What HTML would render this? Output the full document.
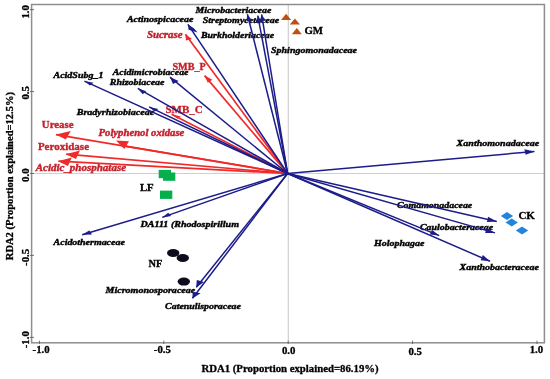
<!DOCTYPE html><html><head><meta charset="utf-8"><style>html,body{margin:0;padding:0;background:#fff;}svg{display:block}</style></head><body>
<svg width="550" height="379" viewBox="0 0 550 379" font-family="'Liberation Serif', 'Times New Roman', serif" font-weight="bold">
<rect width="550" height="379" fill="#fff"/>
<line x1="31.6" y1="173.5" x2="544.5" y2="173.5" stroke="#cfcfcf" stroke-width="1.2"/>
<line x1="288.3" y1="4.4" x2="288.3" y2="342.7" stroke="#cfcfcf" stroke-width="1.2"/>
<rect x="31.6" y="4.5" width="512.8" height="338.3" fill="none" stroke="#8e8e8e" stroke-width="1.5"/>
<line x1="39.4" y1="340.6" x2="39.4" y2="344.0" stroke="#555" stroke-width="0.8"/>
<line x1="163.8" y1="340.6" x2="163.8" y2="344.0" stroke="#555" stroke-width="0.8"/>
<line x1="288.2" y1="340.6" x2="288.2" y2="344.0" stroke="#555" stroke-width="0.8"/>
<line x1="412.6" y1="340.6" x2="412.6" y2="344.0" stroke="#555" stroke-width="0.8"/>
<line x1="537.0" y1="340.6" x2="537.0" y2="344.0" stroke="#555" stroke-width="0.8"/>
<line x1="30" y1="337.4" x2="34" y2="337.4" stroke="#555" stroke-width="0.8"/>
<line x1="30" y1="255.4" x2="34" y2="255.4" stroke="#555" stroke-width="0.8"/>
<line x1="30" y1="173.5" x2="34" y2="173.5" stroke="#555" stroke-width="0.8"/>
<line x1="30" y1="91.5" x2="34" y2="91.5" stroke="#555" stroke-width="0.8"/>
<line x1="30" y1="9.6" x2="34" y2="9.6" stroke="#555" stroke-width="0.8"/>
<text x="41.1" y="353.3" font-size="10.8" text-anchor="middle" stroke="#000" stroke-width="0.3">-1.0</text>
<text x="162.35" y="353.3" font-size="10.8" text-anchor="middle" stroke="#000" stroke-width="0.3">-0.5</text>
<text x="288.7" y="354.1" font-size="10.8" text-anchor="middle" stroke="#000" stroke-width="0.3">0.0</text>
<text x="415.2" y="354.6" font-size="10.8" text-anchor="middle" stroke="#000" stroke-width="0.3">0.5</text>
<text x="536.4" y="353.3" font-size="10.8" text-anchor="middle" stroke="#000" stroke-width="0.3">1.0</text>
<text transform="translate(29.2 339.7) rotate(-90)" font-size="10.8" text-anchor="middle" stroke="#000" stroke-width="0.3">-1.0</text>
<text transform="translate(29.2 257.4) rotate(-90)" font-size="10.8" text-anchor="middle" stroke="#000" stroke-width="0.3">-0.5</text>
<text transform="translate(29.2 175.2) rotate(-90)" font-size="10.8" text-anchor="middle" stroke="#000" stroke-width="0.3">0.0</text>
<text transform="translate(29.2 92.8) rotate(-90)" font-size="10.8" text-anchor="middle" stroke="#000" stroke-width="0.3">0.5</text>
<text transform="translate(29.2 11.8) rotate(-90)" font-size="10.8" text-anchor="middle" stroke="#000" stroke-width="0.3">1.0</text>
<text x="201.4" y="371.7" font-size="10.78" stroke="#000" stroke-width="0.3">RDA1 (Proportion explained=86.19%)</text>
<text transform="translate(13.3 260.2) rotate(-90)" font-size="10.54" stroke="#000" stroke-width="0.3">RDA2 (Proportion explained=12.5%)</text>
<text transform="translate(195.5 12.80) scale(1 0.88)" font-size="9.9" fill="#000" stroke="#000" stroke-width="0.45" font-style="italic">Microbacteriaceae</text>
<text transform="translate(126.9 21.80) scale(1 0.88)" font-size="10" fill="#000" stroke="#000" stroke-width="0.45" font-style="italic">Actinospicaceae</text>
<text transform="translate(202.7 23.30) scale(1 0.88)" font-size="10" fill="#000" stroke="#000" stroke-width="0.45" font-style="italic">Streptomycetaceae</text>
<text transform="translate(201 38.10) scale(1 0.88)" font-size="9.9" fill="#000" stroke="#000" stroke-width="0.45" font-style="italic">Burkholderiaceae</text>
<text transform="translate(271 53.00) scale(1 0.88)" font-size="10" fill="#000" stroke="#000" stroke-width="0.45" font-style="italic">Sphingomonadaceae</text>
<text transform="translate(53.5 77.60) scale(1 0.88)" font-size="10" fill="#000" stroke="#000" stroke-width="0.45" font-style="italic">AcidSubg_1</text>
<text transform="translate(112.7 74.70) scale(1 0.88)" font-size="9.9" fill="#000" stroke="#000" stroke-width="0.45" font-style="italic">Acidimicrobiaceae</text>
<text transform="translate(109.8 85.20) scale(1 0.88)" font-size="9.95" fill="#000" stroke="#000" stroke-width="0.45" font-style="italic">Rhizobiaceae</text>
<text transform="translate(76.7 115.10) scale(1 0.88)" font-size="10.05" fill="#000" stroke="#000" stroke-width="0.45" font-style="italic">Bradyrhizobiaceae</text>
<text transform="translate(456.6 146.10) scale(1 0.88)" font-size="10.05" fill="#000" stroke="#000" stroke-width="0.45" font-style="italic">Xanthomonadaceae</text>
<text transform="translate(397 208.10) scale(1 0.88)" font-size="9.9" fill="#000" stroke="#000" stroke-width="0.45" font-style="italic">Comamonadaceae</text>
<text transform="translate(420 230.20) scale(1 0.88)" font-size="9.9" fill="#000" stroke="#000" stroke-width="0.45" font-style="italic">Caulobacteraceae</text>
<text transform="translate(140.5 227.40) scale(1 0.88)" font-size="10.05" fill="#000" stroke="#000" stroke-width="0.45" font-style="italic">DA111 (Rhodospirillum</text>
<text transform="translate(374 246.00) scale(1 0.88)" font-size="10" fill="#000" stroke="#000" stroke-width="0.45" font-style="italic">Holophagae</text>
<text transform="translate(53.6 245.10) scale(1 0.88)" font-size="9.95" fill="#000" stroke="#000" stroke-width="0.45" font-style="italic">Acidothermaceae</text>
<text transform="translate(459.5 270.20) scale(1 0.88)" font-size="10" fill="#000" stroke="#000" stroke-width="0.45" font-style="italic">Xanthobacteraceae</text>
<text transform="translate(105.5 292.60) scale(1 0.88)" font-size="10.05" fill="#000" stroke="#000" stroke-width="0.45" font-style="italic">Micromonosporaceae</text>
<text transform="translate(165.1 308.50) scale(1 0.88)" font-size="9.9" fill="#000" stroke="#000" stroke-width="0.45" font-style="italic">Catenulisporaceae</text>
<text transform="translate(146.9 37.80) scale(1 0.93)" font-size="10.9" fill="#c4212c" stroke="#c4212c" stroke-width="0.45" font-style="italic">Sucrase</text>
<text x="172.4" y="69.9" font-size="10.2" fill="#c4212c" stroke="#c4212c" stroke-width="0.33">SMB_P</text>
<text x="165.5" y="113.2" font-size="11" fill="#c4212c" stroke="#c4212c" stroke-width="0.33">SMB_C</text>
<text x="41.8" y="128.3" font-size="10.85" fill="#c4212c" stroke="#c4212c" stroke-width="0.33">Urease</text>
<text transform="translate(98.5 135.70) scale(1 0.93)" font-size="10.7" fill="#c4212c" stroke="#c4212c" stroke-width="0.45" font-style="italic">Polyphenol oxidase</text>
<text x="37.9" y="150" font-size="11" fill="#c4212c" stroke="#c4212c" stroke-width="0.33">Peroxidase</text>
<text transform="translate(35.7 170.80) scale(1 0.93)" font-size="11" fill="#c4212c" stroke="#c4212c" stroke-width="0.45" font-style="italic">Acidic_phosphatase</text>
<text x="304.4" y="34" font-size="10.8" fill="#000" stroke="#000" stroke-width="0.33">GM</text>
<text x="139.9" y="191" font-size="10.8" fill="#000" stroke="#000" stroke-width="0.33">LF</text>
<text x="518.4" y="218.7" font-size="11" fill="#000" stroke="#000" stroke-width="0.33">CK</text>
<text x="148.6" y="266.8" font-size="10.35" fill="#000" stroke="#000" stroke-width="0.33">NF</text>
<line x1="287.6" y1="173.5" x2="185.4" y2="34.2" stroke="#f02a2a" stroke-width="1.7"/>
<polygon points="185.4,34.2 185.9,40.4 192.0,39.1" fill="#f02a2a"/>
<line x1="287.6" y1="173.5" x2="204.6" y2="75.6" stroke="#f02a2a" stroke-width="1.7"/>
<polygon points="204.6,75.6 207.8,82.7 212.4,79.7" fill="#f02a2a"/>
<line x1="287.6" y1="173.5" x2="171.6" y2="114.2" stroke="#f02a2a" stroke-width="1.7"/>
<polygon points="171.6,114.2 177.6,118.8 180.9,116.6" fill="#f02a2a"/>
<line x1="287.6" y1="173.5" x2="56.0" y2="134.6" stroke="#f02a2a" stroke-width="1.7"/>
<polygon points="55.8,134.6 70.8,131.1 65.8,139.4" fill="#f02a2a"/>
<line x1="287.6" y1="173.5" x2="121.0" y2="145.4" stroke="#f02a2a" stroke-width="1.7"/>
<polygon points="116.0,140.6 129.0,141.2 124.4,149.0" fill="#f02a2a"/>
<line x1="287.6" y1="173.5" x2="66.2" y2="154.1" stroke="#f02a2a" stroke-width="1.7"/>
<polygon points="65.8,154.2 79.9,150.5 76.0,158.9" fill="#f02a2a"/>
<line x1="287.6" y1="173.5" x2="58.4" y2="161.2" stroke="#f02a2a" stroke-width="1.7"/>
<polygon points="58.0,161.3 71.7,157.5 68.0,165.9" fill="#f02a2a"/>
<line x1="287.6" y1="173.5" x2="247.4" y2="14.3" stroke="#1c1c8a" stroke-width="1.5"/>
<polygon points="247.4,14.3 251.9,20.2 246.3,21.6" fill="#1c1c8a"/>
<line x1="287.6" y1="173.5" x2="257.8" y2="15.6" stroke="#1c1c8a" stroke-width="1.5"/>
<polygon points="257.8,15.6 261.9,21.7 256.2,22.8" fill="#1c1c8a"/>
<line x1="287.6" y1="173.5" x2="261.6" y2="14.4" stroke="#1c1c8a" stroke-width="1.5"/>
<polygon points="261.6,14.4 265.6,20.6 259.8,21.6" fill="#1c1c8a"/>
<line x1="287.6" y1="173.5" x2="187.9" y2="24.3" stroke="#1c1c8a" stroke-width="1.5"/>
<polygon points="187.9,24.3 188.6,29.7 192.7,31.0 197.6,32.6 193.8,28.2" fill="#1c1c8a"/>
<line x1="287.6" y1="173.5" x2="84.4" y2="81.1" stroke="#1c1c8a" stroke-width="1.5"/>
<polygon points="84.4,81.1 89.9,85.5 93.5,82.8" fill="#1c1c8a"/>
<line x1="287.6" y1="173.5" x2="170.0" y2="77.2" stroke="#1c1c8a" stroke-width="1.5"/>
<polygon points="170.0,77.2 173.0,84.1 178.7,81.1" fill="#1c1c8a"/>
<line x1="287.6" y1="173.5" x2="137.8" y2="88.4" stroke="#1c1c8a" stroke-width="1.5"/>
<polygon points="137.8,88.4 142.7,94.2 146.3,91.2" fill="#1c1c8a"/>
<line x1="287.6" y1="173.5" x2="149.1" y2="106.9" stroke="#1c1c8a" stroke-width="1.5"/>
<polygon points="149.1,106.9 154.6,111.5 158.4,108.9" fill="#1c1c8a"/>
<line x1="287.6" y1="173.5" x2="534.4" y2="151.5" stroke="#1c1c8a" stroke-width="1.5"/>
<polygon points="534.8,151.5 524.4,149.2 525.6,154.8" fill="#1c1c8a"/>
<line x1="287.6" y1="173.5" x2="496.8" y2="221.5" stroke="#1c1c8a" stroke-width="1.5"/>
<polygon points="496.8,221.5 486.9,222.0 488.1,216.7" fill="#1c1c8a"/>
<line x1="287.6" y1="173.5" x2="495.0" y2="232.9" stroke="#1c1c8a" stroke-width="1.5"/>
<polygon points="495.0,232.9 485.1,232.9 486.6,227.7" fill="#1c1c8a"/>
<line x1="287.6" y1="173.5" x2="439.2" y2="235.6" stroke="#1c1c8a" stroke-width="1.5"/>
<polygon points="439.2,235.6 429.9,234.6 431.9,229.8" fill="#1c1c8a"/>
<line x1="287.6" y1="173.5" x2="490.0" y2="261.3" stroke="#1c1c8a" stroke-width="1.5"/>
<polygon points="490.0,261.3 480.6,260.3 482.9,255.1" fill="#1c1c8a"/>
<line x1="287.6" y1="173.5" x2="162.2" y2="217.4" stroke="#1c1c8a" stroke-width="1.5"/>
<polygon points="162.2,217.4 168.2,212.8 171.2,216.0" fill="#1c1c8a"/>
<line x1="287.6" y1="173.5" x2="82.2" y2="234.7" stroke="#1c1c8a" stroke-width="1.5"/>
<polygon points="82.2,234.7 89.3,230.4 92.0,234.5" fill="#1c1c8a"/>
<line x1="287.6" y1="173.5" x2="196.3" y2="287.3" stroke="#1c1c8a" stroke-width="1.5"/>
<polygon points="196.2,287.6 196.8,280.0 204.0,282.1" fill="#1c1c8a"/>
<line x1="287.6" y1="173.5" x2="192.5" y2="298.3" stroke="#1c1c8a" stroke-width="1.5"/>
<polygon points="192.3,298.6 192.8,291.7 200.6,293.3" fill="#1c1c8a"/>
<polygon points="281.0,20.0 291.2,20.0 286.1,13.8" fill="#bf5014"/>
<polygon points="289.8,24.5 300.0,24.5 294.9,18.4" fill="#bf5014"/>
<polygon points="291.8,34.2 301.8,34.2 296.8,27.9" fill="#bf5014"/>
<rect x="158.7" y="169.9" width="12.3" height="8.3" fill="#05b04c"/>
<rect x="163" y="172.5" width="12.3" height="8.3" fill="#05b04c"/>
<rect x="160" y="190.6" width="12.3" height="8.3" fill="#05b04c"/>
<polygon points="500.8,216.0 507.0,212.0 513.2,216.0 507.0,220.0" fill="#2384dc"/>
<polygon points="505.5,222.4 511.7,218.4 517.9,222.4 511.7,226.4" fill="#2384dc"/>
<polygon points="515.8,230.5 522.0,226.5 528.2,230.5 522.0,234.5" fill="#2384dc"/>
<ellipse cx="173.2" cy="253" rx="6.2" ry="4" fill="#0c0c1c"/>
<ellipse cx="182.8" cy="258" rx="6.2" ry="4" fill="#0c0c1c"/>
<ellipse cx="183.8" cy="281.6" rx="6.2" ry="4" fill="#0c0c1c"/>
</svg></body></html>
